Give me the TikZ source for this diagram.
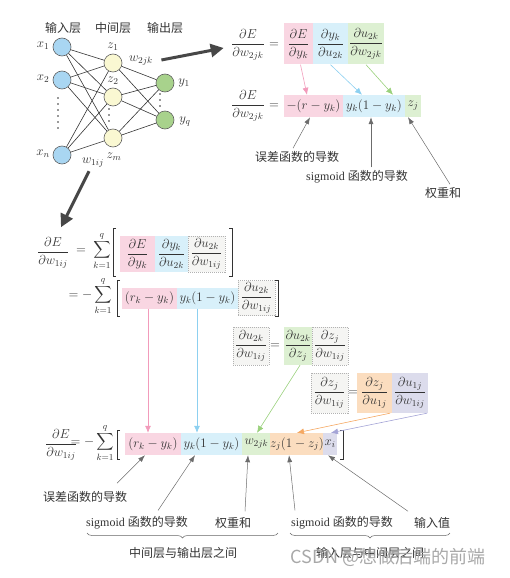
\RequirePackage{fix-cm}
\documentclass[tikz,border=0pt]{standalone}
\usepackage{amsmath}
\usepackage{fontspec}
\setmainfont{Liberation Serif}
\newfontfamily\cjk{Noto Sans CJK SC}
\usepackage{xcolor}
\usetikzlibrary{arrows.meta}
\usetikzlibrary{decorations.pathreplacing}

\definecolor{pinkfill}{HTML}{F9D6E2}
\definecolor{bluefill}{HTML}{D8F0FA}
\definecolor{greenfill}{HTML}{DDF0D2}
\definecolor{orangefill}{HTML}{FBDDBF}
\definecolor{purplefill}{HTML}{DCDCEC}
\definecolor{grayfill}{HTML}{F5F5F3}
\definecolor{pinkline}{HTML}{F29BBB}
\definecolor{blueline}{HTML}{8DD0F0}
\definecolor{greenline}{HTML}{9AD17C}
\definecolor{orangeline}{HTML}{F5A862}
\definecolor{purpleline}{HTML}{A4A4D6}
\definecolor{inputfill}{HTML}{A9D6F2}
\definecolor{midfill}{HTML}{FAF8D2}
\definecolor{outfill}{HTML}{A8D28C}
\definecolor{inkgray}{HTML}{333333}

\tikzset{
    every node/.style = {font=\fontsize{13}{15}\selectfont, text=inkgray},
    neuron/.style = {circle, draw=gray!75!black, line width=0.6pt, minimum size=18pt, inner sep=0pt},
    link/.style = {draw=inkgray, line width=0.6pt},
    term/.style = {inner sep=0pt},
    pterm/.style = {term, fill=pinkfill},
    bterm/.style = {term, fill=bluefill},
    gterm/.style = {term, fill=greenfill},
    oterm/.style = {term, fill=orangefill},
    uterm/.style = {term, fill=purplefill},
    dterm/.style = {term, fill=grayfill, draw=gray!60, line width=0.4pt, dash pattern=on 1pt off 1pt},
    note/.style = {inner sep=1pt, font=\fontsize{12}{14}\selectfont},
    pointer/.style = {draw=gray!85!black, line width=0.5pt, -{Latex[length=7pt,width=5pt]}},
    flow/.style = {line width=0.6pt, -{Latex[length=7pt,width=6pt]}},
    bigarrow/.style = {draw=inkgray!90, line width=3pt, -{Triangle[length=13pt,width=13pt]}},
    brk/.style = {draw=inkgray, line width=0.5pt},
    bracebar/.style = {draw=gray!80!black, line width=0.5pt, decorate, decoration={brace, mirror, amplitude=5pt}}
}

\begin{document}
\begin{tikzpicture}[x=1pt, y=-1pt]
    \useasboundingbox (0,0) rectangle (509,578);

    % network
    \node[note] at (63,28) {\cjk 输入层};
    \node[note] at (113,28) {\cjk 中间层};
    \node[note] at (165,28) {\cjk 输出层};

    \node[neuron, fill=inputfill] (x1) at (62,47) {};
    \node[neuron, fill=inputfill] (x2) at (62,80) {};
    \node[neuron, fill=inputfill] (xn) at (62,155) {};
    \node[neuron, fill=midfill] (z1) at (113,63) {};
    \node[neuron, fill=midfill] (z2) at (113,97) {};
    \node[neuron, fill=midfill] (zm) at (113,138) {};
    \node[neuron, fill=outfill] (y1) at (165,83) {};
    \node[neuron, fill=outfill] (yq) at (165,120) {};

    \foreach \a in {x1,x2,xn}
        \foreach \b in {z1,z2,zm}
            \draw[link] (\a) -- (\b);
    \foreach \a in {z1,z2,zm}
        \foreach \b in {y1,yq}
            \draw[link] (\a) -- (\b);

    \foreach \k in {0,...,5}
        \fill[inkgray] (58,98+6*\k) circle (0.8pt);
    \foreach \k in {0,...,2}
        \fill[inkgray] (109,109+6*\k) circle (0.8pt);
    \foreach \k in {0,...,2}
        \fill[inkgray] (160,94+6*\k) circle (0.8pt);

    \node (lx1) at (43,46) {$x_1$};
    \node (lx2) at (43,79) {$x_2$};
    \node (lxn) at (43,154) {$x_n$};
    \node (lz1) at (113,47) {$z_1$};
    \node (lz2) at (113,81) {$z_2$};
    \node (lzm) at (114,157) {$z_m$};
    \node (ly1) at (184,83) {$y_1$};
    \node (lyq) at (185,122) {$y_q$};
    \node (w2) at (141,61) {$w_{2jk}$};
    \node (w1) at (93,163) {$w_{1ij}$};

    % dE/dw2
    \node (lhs1) at (248,45) {$\dfrac{\partial E}{\partial w_{2jk}}$};
    \node (eq1) at (274,45) {$=$};
    \node[pterm, minimum width=29pt, minimum height=41pt] (p1) at (298.5,44) {$\dfrac{\partial E}{\partial y_k}$};
    \node[bterm, minimum width=35pt, minimum height=41pt] (b1) at (330.5,44) {$\dfrac{\partial y_k}{\partial u_{2k}}$};
    \node[gterm, minimum width=36pt, minimum height=41pt] (g1) at (366,44) {$\dfrac{\partial u_{2k}}{\partial w_{2jk}}$};

    \node (lhs2) at (248,106) {$\dfrac{\partial E}{\partial w_{2jk}}$};
    \node (eq2) at (274,106) {$=$};
    \node[pterm, minimum width=59pt, minimum height=22pt] (p2) at (313.5,106) {$-(r-y_k)$};
    \node[bterm, minimum width=62pt, minimum height=22pt] (b2) at (374,106) {$y_k(1-y_k)$};
    \node[gterm, minimum width=16pt, minimum height=22pt] (g2) at (413,106) {$z_j$};

    \draw[bigarrow] ([shift={(5pt,1pt)}]w2.east) -- ([shift={(-4pt,-3pt)}]lhs1.west);

    \draw[flow, draw=pinkline] ([xshift=2pt]p1.south) -- ([xshift=-6.5pt]p2.north);
    \draw[flow, draw=blueline] (b1.south) -- ([xshift=-12pt]b2.north);
    \draw[flow, draw=greenline] (g1.south) -- ([xshift=19pt]b2.north);

    \node[note] (l1) at (297,157) {\cjk 误差函数的导数};
    \node[note] (l2) at (357,177) {sigmoid \cjk 函数的导数};
    \node[note] (l3) at (443,193) {\cjk 权重和};
    \draw[pointer] ([shift={(-4pt,2pt)}]l1.north) -- ([xshift=-3.5pt]p2.south);
    \draw[pointer] ([shift={(14pt,2pt)}]l2.north) -- ([xshift=-3pt]b2.south);
    \draw[pointer] ([shift={(7pt,2pt)}]l3.north) -- ([xshift=-5pt]g2.south);

    % dE/dw1
    \node (lhs3) at (53,253) {$\dfrac{\partial E}{\partial w_{1ij}}$};
    \node[anchor=west, inner sep=0pt] (sum3) at (76,251) {$=\;\displaystyle\sum_{k=1}^{q}$};
    \draw[brk] (116,228) -- (113,228) -- (113,276) -- (116,276);
    \node[pterm, minimum width=35pt, minimum height=36pt] (p3) at (137.5,254) {$\dfrac{\partial E}{\partial y_k}$};
    \node[bterm, minimum width=33pt, minimum height=36pt] (b3) at (171.5,254) {$\dfrac{\partial y_k}{\partial u_{2k}}$};
    \node[dterm, minimum width=37pt, minimum height=36pt] (d3) at (206.5,254) {$\dfrac{\partial u_{2k}}{\partial w_{1ij}}$};
    \draw[brk] (229,228) -- (232,228) -- (232,276) -- (229,276);

    \node[anchor=east, inner sep=0pt] (sum4) at (112,296) {$=-\displaystyle\sum_{k=1}^{q}$};
    \draw[brk] (120,280) -- (117,280) -- (117,316) -- (120,316);
    \node[pterm, minimum width=55pt, minimum height=21pt] (p4) at (149.5,298) {$(r_k-y_k)$};
    \node[bterm, minimum width=61pt, minimum height=21pt] (b4) at (207.5,298) {$y_k(1-y_k)$};
    \node[dterm, minimum width=37pt, minimum height=35pt] (d4) at (256.5,298) {$\dfrac{\partial u_{2k}}{\partial w_{1ij}}$};
    \draw[brk] (275,280) -- (278,280) -- (278,316) -- (275,316);

    \draw[bigarrow] ([xshift=-4pt]w1.south) -- ([shift={(8pt,7pt)}]lhs3.north);

    % du2k/dw1ij and dzj/dw1ij
    \node[dterm, minimum width=36pt, minimum height=38pt] (d5) at (251,346) {$\dfrac{\partial u_{2k}}{\partial w_{1ij}}$};
    \node (eq5) at (275,346) {$=$};
    \node[gterm, minimum width=28pt, minimum height=38pt] (g5) at (298,346) {$\dfrac{\partial u_{2k}}{\partial z_j}$};
    \node[dterm, minimum width=36pt, minimum height=38pt] (d6) at (330,346) {$\dfrac{\partial z_j}{\partial w_{1ij}}$};

    \node[dterm, minimum width=37pt, minimum height=40pt] (d7) at (329.5,393) {$\dfrac{\partial z_j}{\partial w_{1ij}}$};
    \node (eq7) at (353,393) {$=$};
    \node[oterm, minimum width=35pt, minimum height=40pt] (o7) at (374.5,393) {$\dfrac{\partial z_j}{\partial u_{1j}}$};
    \node[uterm, minimum width=36pt, minimum height=40pt] (u7) at (410,393) {$\dfrac{\partial u_{1j}}{\partial w_{1ij}}$};

    % result
    \node (lhs8) at (61,445) {$\dfrac{\partial E}{\partial w_{1ij}}$};
    \node[anchor=east, inner sep=0pt] (sum8) at (114,443) {$=-\displaystyle\sum_{k=1}^{q}$};
    \draw[brk] (120,430) -- (117,430) -- (117,459) -- (120,459);
    \node[pterm, minimum width=56pt, minimum height=22pt] (p8) at (153,444) {$(r_k-y_k)$};
    \node[bterm, minimum width=61pt, minimum height=22pt] (b8) at (211.5,444) {$y_k(1-y_k)$};
    \node[gterm, minimum width=29pt, minimum height=22pt] (g8) at (256.5,444) {$w_{2jk}$};
    \node[oterm, minimum width=52pt, minimum height=22pt] (o8) at (297,444) {$z_j(1-z_j)$};
    \node[uterm, minimum width=14pt, minimum height=22pt] (u8) at (330,444) {$x_i$};
    \draw[brk] (340,430) -- (343,430) -- (343,459) -- (340,459);

    \draw[flow, draw=pinkline] ([xshift=-1.5pt]p4.south) -- ([xshift=-5pt]p8.north);
    \draw[flow, draw=blueline] ([xshift=-10.5pt]b4.south) -- ([xshift=-14.5pt]b8.north);
    \draw[flow, draw=greenline] ([xshift=2pt]g5.south) -- ([xshift=0.5pt]g8.north);
    \draw[flow, draw=orangeline] ([xshift=15.5pt]o7.south) -- (o8.north);
    \draw[flow, draw=purpleline] ([xshift=17pt]u7.south) -- ([xshift=1pt]u8.north);

    \node[note] (m1) at (85,497) {\cjk 误差函数的导数};
    \node[note] (m2) at (137,523) {sigmoid \cjk 函数的导数};
    \node[note] (m3) at (233,523) {\cjk 权重和};
    \node[note] (m4) at (342,523) {sigmoid \cjk 函数的导数};
    \node[note] (m5) at (432,523) {\cjk 输入值};
    \draw[pointer] ([shift={(32pt,7pt)}]m1.north) -- ([xshift=-8pt]p8.south);
    \draw[pointer] ([shift={(21pt,5pt)}]m2.north) -- ([xshift=-16.5pt]b8.south);
    \draw[pointer] ([shift={(12pt,5pt)}]m3.north) -- ([xshift=-8.5pt]g8.south);
    \draw[pointer] ([shift={(-47pt,5pt)}]m4.north) -- ([xshift=-8pt]o8.south);
    \draw[pointer] ([shift={(-24pt,5pt)}]m5.north) -- ([xshift=-2pt]u8.south);

    \draw[bracebar] (87,533) -- (278,533);
    \draw[bracebar] (290,533) -- (450,533);
    \node[note] (n1) at (183,553) {\cjk 中间层与输出层之间};
    \node[note] (n2) at (370,553) {\cjk 输入层与中间层之间};

    \node[font=\cjk\fontsize{18}{20}\selectfont, text=gray!75, opacity=0.9] (wm) at (388,557) {CSDN @想做后端的前端};
\end{tikzpicture}
\end{document}
